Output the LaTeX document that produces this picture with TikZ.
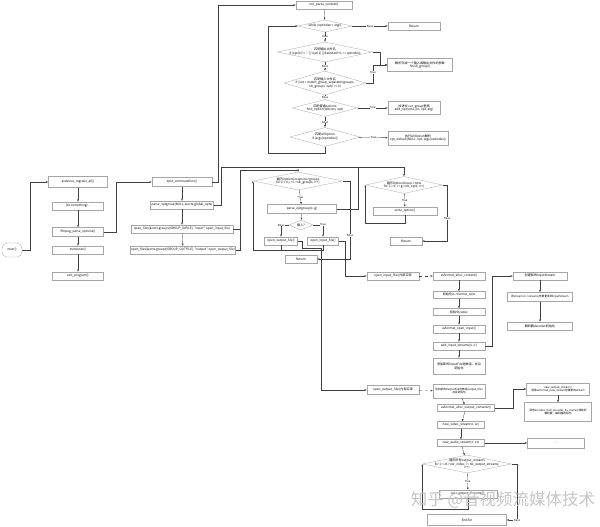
\documentclass[tikz,border=0pt]{standalone}
\usepackage{fontspec}
\newfontfamily\cjk{Noto Sans CJK SC}
\usetikzlibrary{shapes.geometric,arrows.meta}
\newcommand{\ftxt}{\cjk\fontsize{3.1}{3.8}\selectfont}
\newcommand{\fsmall}{\cjk\fontsize{2.7}{3.4}\selectfont}
\newcommand{\flab}{\cjk\fontsize{2.7}{3.1}\selectfont}
\begin{document}
\begin{tikzpicture}[x=1pt,y=-1pt,
  box/.style={draw=gray!70,line width=0.3pt,fill=white,inner sep=0.5pt,minimum height=8pt,align=center,font=\ftxt},
  dec/.style={diamond,draw=gray!70,line width=0.3pt,fill=white,inner sep=0pt},
  txt/.style={align=center,font=\ftxt,inner sep=0pt},
  lab/.style={font=\flab,fill=white,inner sep=0.3pt},
  arr/.style={draw=black!75,line width=0.3pt,-{Latex[length=2.2pt,width=1.8pt]}},
  lin/.style={draw=black!75,line width=0.3pt}]
  \useasboundingbox[fill=white] (0,0) rectangle (600,527);

  %main
  \node[box,rounded corners=5pt,minimum width=20pt,minimum height=14pt] (main) at (12,250) {main()};
  \node[box,minimum width=59pt,minimum height=11pt] (avreg) at (78,182) {avdevice\_register\_all()};
  \node[box,minimum width=51pt] (dosome) at (78,206) {(do something)...};
  \node[box,minimum width=51pt,minimum height=9pt] (parseopt) at (78,232) {ffmpeg\_parse\_options()};
  \node[box,minimum width=51pt] (transc) at (78,250) {transcode()};
  \node[box,minimum width=51pt] (exitp) at (78,276) {exit\_program()};
  \draw[arr] (main.east) -- ++(8,0) |- (avreg.west);
  \draw[arr] (avreg) -- (dosome);
  \draw[arr] (dosome) -- (parseopt);
  \draw[arr] (parseopt) -- (transc);
  \draw[arr] (transc) -- (exitp);

  %ffmpeg_parse_options
  \node[box,minimum width=60pt,minimum height=9pt] (split) at (182,182) {split\_commandline()};
  \node[box,minimum width=63pt] (pgglob) at (182,205) {parse\_optgroup(NULL, \&octx.global\_opts)};
  \node[box,minimum width=102pt] (ofin) at (182,229) {open\_files(\&octx.groups[GROUP\_INFILE], "input", open\_input\_file)};
  \node[box,minimum width=105pt] (ofout) at (183,250) {open\_files(\&octx.groups[GROUP\_OUTFILE], "output", open\_output\_file)};
  \draw[arr] (parseopt.east) -- ++(12,0) |- (split.west);
  \draw[arr] (split) -- (pgglob);
  \draw[arr] (pgglob) -- (ofin);
  \draw[arr] (ofin) -- (ofout);

  %split_commandline
  \node[box,minimum width=56pt] (initpc) at (324,5) {init\_parse\_context()};
  \node[dec,minimum width=54pt,minimum height=12pt] (wh) at (325,26) {};
  \node[txt] (wht) at (wh) {while (optindex < argc)};
  \node[box,minimum width=52pt] (ret1) at (414,26) {Return};
  \node[dec,minimum width=95pt,minimum height=20pt] (d1) at (325,52) {};
  \node[txt] (d1t) at (d1) {匹配输出文件名\\if (opt[0] != '-' || !opt[1] || dashdash+1 == optindex)};
  \node[box,minimum width=65pt,minimum height=13pt] (fg) at (420,65) {解析完成一个输入或输出文件的参数\\finish\_group()};
  \node[dec,minimum width=82pt,minimum height=24pt] (d2) at (325,83) {};
  \node[txt] (d2t) at (d2) {匹配输入文件名\\if ((ret = match\_group\_separator(groups,\\nb\_groups, opt)) >= 0)};
  \node[dec,minimum width=65pt,minimum height=17pt] (d3) at (325,108) {};
  \node[txt] (d3t) at (d3) {匹配普通options\\find\_option(options, opt)};
  \node[box,minimum width=52pt,minimum height=13pt] (ao) at (414,108) {加进去 cur\_group里面\\add\_opt(octx, po, opt, arg)};
  \node[dec,minimum width=70pt,minimum height=19pt] (d4) at (325,137) {};
  \node[txt] (d4t) at (d4) {匹配AVOption\\if (argv[optindex])};
  \node[box,minimum width=60pt,minimum height=14pt] (od) at (418,138) {执行AVOption解析\\opt\_default(NULL, opt, argv[optindex])};
  \draw[arr] (split.east) -- ++(6,0) |- (initpc.west);
  \draw[arr] (initpc) -- (wh);
  \draw[arr] (wh) -- node[lab]{False} (ret1);
  \draw[arr] (wh) -- node[lab]{True} (d1);
  \draw[arr] (d1) -- node[lab]{False} (d2);
  \draw[arr] (d2) -- node[lab]{False} (d3);
  \draw[arr] (d3) -- node[lab]{False} (d4);
  \draw[arr] (d1.east) -- (380,52) |- (fg.west);
  \draw[arr] (d2.east) -- (373,83) |- node[lab,pos=0.3]{True} (fg.west);
  \draw[arr] (d3) -- node[lab]{True} (ao);
  \draw[arr] (d4) -- node[lab]{True} (od);
  \draw[arr] (d4.south) -- (325,153) -- (268,153) |- (wh.west);

  %open_files
  \coordinate (t1) at (298,170);
  \coordinate (t2) at (404,167);
  \node[dec,minimum width=90pt,minimum height=18pt] (l1) at (298,181) {};
  \node[txt] (l1t) at (l1) {遍历OptionGroupList->groups\\for (i = 0; i < l->nb\_groups; i++)};
  \node[box,minimum width=69pt,minimum height=9pt] (pg) at (302,209) {parse\_optgroup(o, g)};
  \node[dec,minimum width=24pt,minimum height=10pt] (isin) at (301,225) {};
  \node[txt] (isint) at (isin) {输入?};
  \node[box,minimum width=33pt] (oof) at (281,241) {open\_output\_file()};
  \node[box,minimum width=31pt] (oif) at (323,241) {open\_input\_file()};
  \node[box,minimum width=32pt] (ret2) at (301,259) {Return};
  \draw[arr] (ofin.east) -| (240,170) -- (t1) -- (l1.north);
  \draw[lin] (ofout.east) -| (240,229);
  \draw[arr] (l1) -- node[lab]{True} (pg);
  \draw[arr] (pg) -- (isin);
  \draw[arr] (isin.west) -| node[lab,pos=0.5]{False} (oof.north);
  \draw[arr] (isin.east) -| node[lab,pos=0.5]{True} (oif.north);
  \draw[lin] (oif.south) |- (281,250);
  \draw[arr] (oof.south) -- (281,250) -| (l1.west);
  \draw[arr] (l1.east) -- (350,181) |- node[lab,pos=0.35]{False} (ret2.east);

  %parse_optgroup
  \node[dec,minimum width=77pt,minimum height=17pt] (l2) at (404,185) {};
  \node[txt] (l2t) at (l2) {遍历OptionGroup->opts\\for (i = 0; i < g->nb\_opts; i++)};
  \node[box,minimum width=64pt] (wo) at (405,211) {write\_option()};
  \node[box,minimum width=32pt] (ret3) at (406,241) {Return};
  \draw[arr] (pgglob.east) -- ++(7.5,0) |- (t2) -- (l2.north);
  \draw[lin] (pg.east) -| (358,167);
  \draw[arr] (l2) -- node[lab]{True} (wo);
  \draw[arr] (wo.south) -- ++(0,8) -| (l2.west);
  \draw[arr] (l2.east) -- (447,185) |- node[lab,pos=0.3]{False} (ret3.east);

  %open_input_file
  \node[box,minimum width=52pt] (oifimpl) at (393,276) {open\_input\_file()内部实现};
  \node[box,minimum width=52pt] (aac) at (459,276) {avformat\_alloc\_context()};
  \node[box,minimum width=52pt,minimum height=7pt] (ifo) at (459,295) {初始化ic->format\_opts};
  \node[box,minimum width=52pt,minimum height=7pt] (icodec) at (459,312) {初始化codec};
  \node[box,minimum width=52pt] (aoi) at (459,329) {avformat\_open\_input()};
  \node[box,minimum width=52pt] (ais) at (459,346) {add\_input\_streams(o, ic)};
  \node[box,minimum width=52pt,minimum height=16pt] (aif) at (459,366) {添加新的InputFile进数组，并且\\初始化};
  \node[box,minimum width=54pt] (cis) at (540,276) {创建新的InputStream};
  \node[box,minimum width=65pt,minimum height=9pt,font=\fsmall] (upd) at (540,297) {把stream(ic->streams)参数更新到InputStream};
  \node[box,minimum width=65pt] (decinit) at (540,326) {解码器decoder初始化};
  \draw[arr] (oif.east) -- (345,241) |- (oifimpl.west);
  \draw[arr,dashed] (oifimpl) -- (aac);
  \draw[arr] (aac) -- (ifo);
  \draw[arr] (ifo) -- (icodec);
  \draw[arr] (icodec) -- (aoi);
  \draw[arr] (aoi) -- (ais);
  \draw[arr] (ais) -- (aif);
  \draw[arr] (ais.east) -- (492,346) |- (cis.west);
  \draw[arr] (cis) -- (upd);
  \draw[arr] (upd) -- (decinit);

  %open_output_file
  \node[box,minimum width=52pt,minimum height=9pt] (oofimpl) at (393,390) {open\_output\_file()内部实现};
  \node[box,minimum width=52pt,minimum height=14pt,font=\fsmall] (aof) at (459,391) {添加新的OutputFile进数组output\_files\\并且初始化};
  \node[box,minimum width=57pt,minimum height=7pt] (aaoc) at (466,408) {avformat\_alloc\_output\_context2()};
  \node[box,minimum width=47pt,minimum height=7pt] (nvs) at (461,425) {new\_video\_stream(o, oc)};
  \node[box,minimum width=47pt,minimum height=7pt] (nas) at (461,443) {new\_audio\_stream(o, oc)};
  \node[box,minimum width=57pt,minimum height=10pt] (dots) at (556,443) {...};
  \node[box,minimum width=63pt,minimum height=12pt,font=\fsmall] (nos) at (558,389) {new\_output\_stream()\\调用avformat\_new\_stream创建新的stream};
  \node[box,minimum width=67pt,minimum height=19pt,font=\fsmall] (enc) at (558,412) {调用avcodec\_find\_encoder\_by\_name()获取到\\编码器，编码器初始化};
  \node[dec,minimum width=89pt,minimum height=18pt] (l3) at (467,464) {};
  \node[txt] (l3t) at (l3) {遍历所有output\_streams\\for (i = of->ost\_index; i < nb\_output\_streams;\\i++)};
  \node[box,minimum width=58pt] (ost) at (468,494) {ost = output\_streams[i];};
  \node[box,minimum width=79pt,minimum height=11pt] (endf) at (467,520) {End for};
  \draw[arr] (oof.east) -- ++(4,0) |- (321,248) |- (oofimpl.west);
  \draw[arr,dashed] (oofimpl) -- (aof);
  \draw[arr] (aof) -- (aaoc);
  \draw[arr] (aaoc) -- (nvs);
  \draw[arr] (nvs) -- (nas);
  \draw[arr] (nas) -- (l3);
  \draw[arr] (aaoc.east) -- (513,408) |- (nos.west);
  \draw[arr] (nos) -- (enc);
  \draw[arr] (nas) -- (dots);
  \draw[arr] (l3) -- node[lab]{True} (ost);
  \draw[arr] (ost.south) -- ++(0,11) -| (l3.west);
  \draw[arr] (l3.east) -- (517,464) |- node[lab,pos=0.5]{False} (endf.east);

  %marca
  \node[font=\cjk\fontsize{16.5}{16.5}\selectfont,text=gray!45] (wm) at (503,500) {知乎 @音视频流媒体技术};
\end{tikzpicture}
\end{document}
